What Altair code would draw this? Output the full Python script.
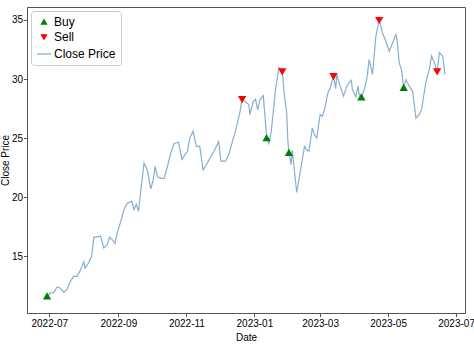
import altair as alt
import pandas as pd

dates = [
    "2022-06-29", "2022-07-02", "2022-07-05", "2022-07-08", "2022-07-11", "2022-07-14", "2022-07-17", "2022-07-20", "2022-07-23", "2022-07-26", "2022-07-29",
    "2022-08-01", "2022-08-02", "2022-08-05", "2022-08-08", "2022-08-10", "2022-08-16", "2022-08-19", "2022-08-22", "2022-08-24", "2022-08-27", "2022-08-29", "2022-08-31",
    "2022-09-03", "2022-09-06", "2022-09-09", "2022-09-13", "2022-09-15", "2022-09-17", "2022-09-19", "2022-09-24", "2022-09-27", "2022-09-30",
    "2022-10-02", "2022-10-04", "2022-10-06", "2022-10-09", "2022-10-12", "2022-10-15", "2022-10-18", "2022-10-21", "2022-10-25", "2022-10-28",
    "2022-11-02", "2022-11-04", "2022-11-07", "2022-11-10", "2022-11-13", "2022-11-16", "2022-11-19", "2022-11-22", "2022-11-25", "2022-11-30",
    "2022-12-02", "2022-12-06", "2022-12-09", "2022-12-12", "2022-12-15", "2022-12-19", "2022-12-21", "2022-12-25", "2022-12-27", "2022-12-28", "2022-12-31",
    "2023-01-02", "2023-01-04", "2023-01-06", "2023-01-09", "2023-01-11", "2023-01-12", "2023-01-14", "2023-01-16", "2023-01-20", "2023-01-23", "2023-01-26", "2023-01-28", "2023-01-30", "2023-01-31",
    "2023-02-01", "2023-02-03", "2023-02-04", "2023-02-08", "2023-02-11", "2023-02-15", "2023-02-17", "2023-02-19", "2023-02-22", "2023-02-24", "2023-02-26",
    "2023-03-01", "2023-03-03", "2023-03-05", "2023-03-08", "2023-03-10", "2023-03-13", "2023-03-15", "2023-03-16", "2023-03-19", "2023-03-22", "2023-03-25", "2023-03-27", "2023-03-29", "2023-03-30",
    "2023-04-02", "2023-04-04", "2023-04-05", "2023-04-07", "2023-04-10", "2023-04-12", "2023-04-14", "2023-04-17", "2023-04-20", "2023-04-23", "2023-04-26", "2023-04-29",
    "2023-05-02", "2023-05-05", "2023-05-08", "2023-05-09", "2023-05-11", "2023-05-13", "2023-05-15", "2023-05-17", "2023-05-20", "2023-05-23", "2023-05-26", "2023-05-29", "2023-05-31",
    "2023-06-04", "2023-06-07", "2023-06-09", "2023-06-12", "2023-06-14", "2023-06-16", "2023-06-19", "2023-06-21",
]

close = [
    11.6, 11.9, 11.93, 12.4, 12.3, 11.95, 12.2, 12.9, 13.3, 13.3, 13.85,
    14.55, 14.0, 14.4, 15.0, 16.6, 16.7, 15.7, 16.0, 16.6, 16.35, 16.1, 17.0,
    17.9, 18.95, 19.5, 19.65, 18.95, 19.4, 18.8, 22.9, 22.3, 20.7,
    21.35, 22.6, 21.75, 21.6, 21.6, 22.6, 23.75, 24.55, 24.65, 23.2,
    23.9, 25.0, 25.6, 24.3, 24.3, 22.3, 22.75, 23.3, 23.75, 24.7,
    23.05, 23.05, 23.6, 24.6, 25.6, 27.15, 28.3, 28.0, 27.85, 27.0, 28.1,
    28.3, 27.4, 28.25, 28.6, 26.3, 25.0, 24.55, 25.45, 29.1, 30.95, 30.65, 28.55, 27.15, 24.9,
    23.75, 22.75, 24.0, 20.4, 22.05, 24.3, 24.0, 23.9, 25.85, 25.3, 25.0,
    27.0, 26.85, 27.4, 28.85, 29.25, 30.25, 29.2, 30.4, 29.4, 28.55, 29.4, 29.7, 29.9, 29.1,
    28.5, 29.4, 28.7, 28.45, 29.25, 30.1, 31.65, 30.4, 33.6, 35.0, 33.9, 33.2,
    32.35, 33.05, 33.75, 33.35, 31.35, 30.8, 29.25, 29.95, 29.4, 28.95, 26.7, 27.0, 27.4,
    29.8, 30.8, 31.95, 31.25, 30.65, 32.25, 31.95, 30.4,
]

buy_dates = ["2022-06-29", "2023-01-12", "2023-02-01", "2023-04-07", "2023-05-15"]
buy_prices = [11.6, 25.0, 23.75, 28.45, 29.25]
sell_dates = ["2022-12-21", "2023-01-26", "2023-03-13", "2023-04-23", "2023-06-14"]
sell_prices = [28.3, 30.65, 30.25, 35.0, 30.65]

series_names = ["Buy", "Sell", "Close Price"]
series_colors = ["#008000", "#ff0000", "#86aed3"]
series_shapes = ["triangle-up", "triangle-down", "stroke"]
series_sizes = [24, 24, 200]
y_ticks = [15, 20, 25, 30, 35]

line_df = pd.DataFrame({"Date": dates, "Close": close, "series": ["Close Price"] * len(dates)})
sig_df = pd.DataFrame({
    "Date": buy_dates + sell_dates,
    "Close": buy_prices + sell_prices,
    "series": ["Buy"] * len(buy_dates) + ["Sell"] * len(sell_dates),
})

FONT = "Liberation Sans Narrow, Liberation Sans, Arial, sans-serif"

legend = alt.Legend(
    title=None, orient="top-left", offset=4, fillColor="white", strokeColor="#cccccc",
    cornerRadius=3, padding=5, labelFontSize=12, labelFont=FONT, rowPadding=3,
    symbolStrokeWidth=1.3, labelColor="black", labelFontWeight=500, labelOffset=2,
)

x_enc = alt.X(
    "Date:T",
    scale=alt.Scale(type="utc", domain=[alt.DateTime(year=2022, month=6, date=11, utc=True),
                                        alt.DateTime(year=2023, month=7, date=9, utc=True)]),
    axis=alt.Axis(
        title="Date", format="%Y-%m", grid=False,
        values=[alt.DateTime(year=y, month=m, date=1, utc=True)
                for y, m in [(2022, 7), (2022, 9), (2022, 11), (2023, 1), (2023, 3), (2023, 5), (2023, 7)]],
    ),
)
y_enc = alt.Y(
    "Close:Q",
    scale=alt.Scale(domain=[10.2, 36.1], nice=False, zero=False),
    axis=alt.Axis(title="Close Price", values=y_ticks, grid=False),
)

line = alt.Chart(line_df).mark_line(strokeWidth=1.2).encode(
    x=x_enc,
    y=y_enc,
    stroke=alt.Stroke("series:N", scale=alt.Scale(domain=series_names, range=series_colors), legend=legend),
)

points = alt.Chart(sig_df).mark_point(filled=True, opacity=1).encode(
    x=x_enc,
    y=y_enc,
    fill=alt.Fill("series:N", scale=alt.Scale(domain=series_names, range=series_colors), legend=legend),
    stroke=alt.Stroke("series:N", scale=alt.Scale(domain=series_names, range=series_colors), legend=legend),
    shape=alt.Shape("series:N", scale=alt.Scale(domain=series_names, range=series_shapes), legend=legend),
    size=alt.Size("series:N", scale=alt.Scale(type="ordinal", domain=series_names, range=series_sizes), legend=legend),
)

chart = alt.layer(line, points).properties(
    width=438, height=306,
    autosize=alt.AutoSizeParams(type="none"),
    padding={"left": 27, "top": 7, "right": 9, "bottom": 42},
).configure_view(
    stroke="#555555", strokeWidth=1,
).configure_axis(
    domainColor="#555555", tickColor="#555555", tickSize=3.5, labelFontSize=10,
    labelFont=FONT, titleFont=FONT, titleFontSize=10, titleFontWeight="normal",
    labelColor="black", titleColor="black", labelPadding=2,
).configure_axisX(
    titlePadding=4,
).configure_axisY(
    titlePadding=1, labelPadding=1,
)

chart.save("out.html", embed_options={"renderer": "svg", "actions": False})
